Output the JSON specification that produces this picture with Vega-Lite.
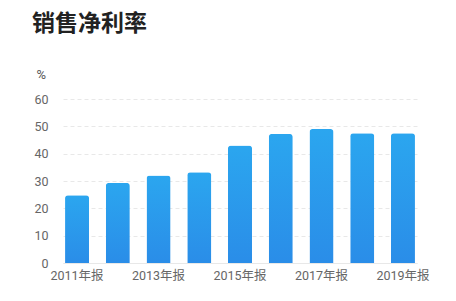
{
  "$schema": "https://vega.github.io/schema/vega-lite/v6.json",
  "width": 354,
  "height": 164,
  "autosize": {"type": "none"},
  "padding": {"left": 63, "top": 99, "right": 39, "bottom": 38},
  "background": "#ffffff",
  "title": {
    "text": "销售净利率",
    "anchor": "start",
    "frame": "group",
    "orient": "top",
    "dx": -31,
    "offset": 14,
    "baseline": "alphabetic",
    "font": "Roboto, Noto Sans CJK SC",
    "fontSize": 23,
    "fontWeight": "bold",
    "color": "#222222"
  },
  "config": {
    "view": {"stroke": null},
    "font": "Roboto, Noto Sans CJK SC"
  },
  "data": {
    "values": [
      {"year": "2011年报", "value": 24.8},
      {"year": "2012年报", "value": 29.3},
      {"year": "2013年报", "value": 32.0},
      {"year": "2014年报", "value": 33.2},
      {"year": "2015年报", "value": 43.0},
      {"year": "2016年报", "value": 47.2},
      {"year": "2017年报", "value": 49.0},
      {"year": "2018年报", "value": 47.5},
      {"year": "2019年报", "value": 47.5}
    ]
  },
  "mark": {
    "type": "bar",
    "cornerRadiusTopLeft": 3,
    "cornerRadiusTopRight": 3,
    "color": {
      "gradient": "linear",
      "x1": 0, "y1": 0, "x2": 0, "y2": 1,
      "stops": [
        {"offset": 0, "color": "#2ba6ef"},
        {"offset": 1, "color": "#2a8de8"}
      ]
    }
  },
  "encoding": {
    "x": {
      "field": "year",
      "type": "nominal",
      "sort": null,
      "scale": {"paddingInner": 0.41, "paddingOuter": 0.05},
      "axis": {
        "title": null,
        "labelAngle": 0,
        "values": ["2011年报", "2013年报", "2015年报", "2017年报", "2019年报"],
        "ticks": false,
        "domain": true,
        "domainColor": "#e8e8e8",
        "labelPadding": 6,
        "labelFontSize": 12.5,
        "labelColor": "#666666",
        "grid": false
      }
    },
    "y": {
      "field": "value",
      "type": "quantitative",
      "scale": {"domain": [0, 60]},
      "axis": {
        "values": [0, 10, 20, 30, 40, 50, 60],
        "title": "%",
        "titleAngle": 0,
        "titleX": -27,
        "titleY": -21,
        "titleAlign": "left",
        "titleBaseline": "alphabetic",
        "titleFontSize": 13,
        "titleFontWeight": "normal",
        "titleColor": "#555555",
        "domain": false,
        "ticks": false,
        "labelPadding": 15,
        "labelFontSize": 12.5,
        "labelColor": "#666666",
        "gridColor": "#e8e8e8",
        "gridDash": [4, 3],
        "gridWidth": 1
      }
    }
  }
}
